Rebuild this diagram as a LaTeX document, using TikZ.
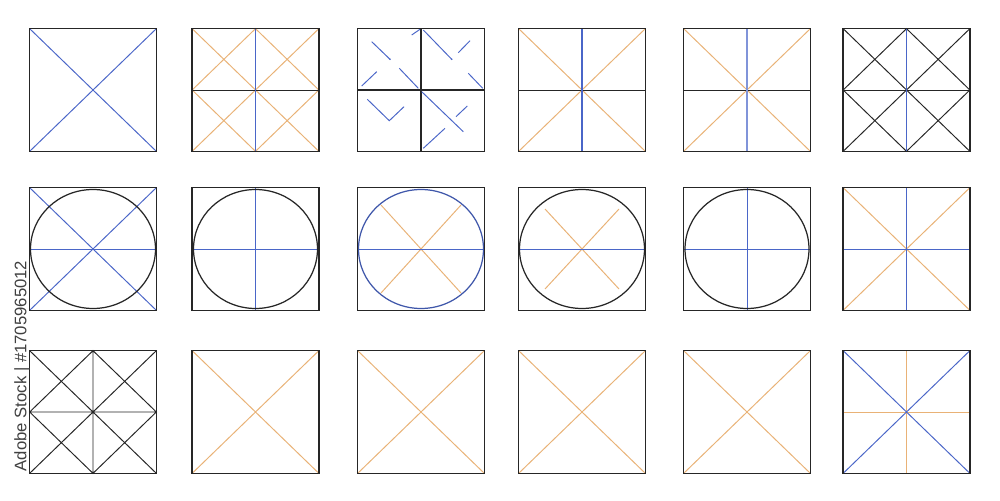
\documentclass[tikz,border=0pt]{standalone}
\usepackage{fontspec}
\usetikzlibrary{calc}
\newfontfamily\wmfont{Liberation Sans}
\definecolor{blu}{HTML}{4A66C8}
\definecolor{org}{HTML}{E9B276}
\definecolor{blk}{HTML}{262626}
\begin{document}
\begin{tikzpicture}[x=0.02cm,y=-0.02cm,
  sq/.style={rectangle, minimum width=2.52cm, minimum height=2.44cm, inner sep=0pt},
  border/.style={draw=blk, line width=0.85pt},
  blueln/.style={draw=blu, line width=0.55pt},
  orgln/.style={draw=org, line width=0.55pt},
  blkln/.style={draw=blk, line width=0.55pt},
  ring/.style={line width=0.7pt}]
\fill[white] (0,0) rectangle (1000,500);
\useasboundingbox (0,0) rectangle (1000,500);

% squares (shapes only, borders drawn last)
\foreach \n/\x in {1/93,2/255.5,3/421,4/582,5/747,6/906.5}{
  \node[sq] (s1\n) at (\x,90) {};
  \node[sq] (s2\n) at (\x,249) {};
  \node[sq] (s3\n) at (\x,412) {};
}

% ---------- row 1 ----------
% 1: blue X
\draw[blueln] (s11.north west) -- (s11.south east) (s11.north east) -- (s11.south west);
% 2: orange quadrant X's, black horizontal, blue vertical
\draw[orgln] (s12.north west) -- (s12.south east) (s12.north east) -- (s12.south west)
  (s12.north) -- (s12.east) -- (s12.south) -- (s12.west) -- cycle;
\draw[blkln] (s12.west) -- (s12.east);
\draw[blueln,line width=0.8pt] (s12.north) -- (s12.south);
% 3: black cross, broken blue strokes
\draw[blkln,line width=0.75pt] (s13.west) -- (s13.east) (s13.north) -- (s13.south);
\draw[blueln] (371.7,41.7) -- (390,59.3);
\fill[blu] (390,59.3) circle (0.9);
\draw[blueln] (399.3,68.3) -- (418.3,88.3);
\draw[blueln] (361.7,86) -- (376.7,71.7);
\draw[blueln] (411.7,35) -- (420,29.3);
\draw[blueln] (423.3,30) -- (451.7,59.3);
\fill[blu] (451.7,59.3) circle (0.9);
\draw[blueln] (458.3,52.7) -- (470,40.7);
\draw[blueln] (468.3,73.3) -- (482.7,88.3);
\draw[blueln] (367.3,99.3) -- (389.3,120.7) -- (404,106.7);
\draw[blueln] (421.7,91.7) -- (463.3,131.7);
\draw[blueln] (456,116.7) -- (467.3,106);
\draw[blueln] (423.3,148.3) -- (445,128.3);
% 4: orange X, black horizontal, blue vertical
\draw[orgln] (s14.north west) -- (s14.south east) (s14.north east) -- (s14.south west);
\draw[blkln] (s14.west) -- (s14.east);
\draw[blueln,line width=0.7pt] (s14.north) -- (s14.south);
% 5: same
\draw[orgln] (s15.north west) -- (s15.south east) (s15.north east) -- (s15.south west);
\draw[blkln] (s15.west) -- (s15.east);
\draw[blueln,draw=blu!70,line width=0.9pt] (s15.north) -- (s15.south);
% 6: black quadrant X's, black horizontal, blue vertical
\draw[blkln] (s16.north west) -- (s16.south east) (s16.north east) -- (s16.south west)
  (s16.north) -- (s16.east) -- (s16.south) -- (s16.west) -- cycle;
\draw[blkln] (s16.west) -- (s16.east);
\draw[blueln] (s16.north) -- (s16.south);

% ---------- row 2 ----------
% 1: circle, blue X, blue horizontal
\draw[blueln] (s21.north west) -- (s21.south east) (s21.north east) -- (s21.south west);
\draw[blueln] (s21.west) -- (s21.east);
\draw[blk,ring] (s21.center) ellipse [x radius=1.25cm, y radius=1.19cm];
% 2: circle, blue cross
\draw[blueln] (s22.west) -- (s22.east) (s22.north) -- (s22.south);
\draw[blk,ring] (s22.center) ellipse [x radius=1.24cm, y radius=1.19cm];
% 3: blue circle, blue horizontal, orange X inside
\draw[orgln] ($(s23.center)+(-40,-44)$) -- ($(s23.center)+(40,44)$)
  ($(s23.center)+(40,-44)$) -- ($(s23.center)+(-40,44)$);
\draw[blueln] (s23.west) -- (s23.east);
\draw[blu!85!black,ring] (s23.center) ellipse [x radius=1.25cm, y radius=1.19cm];
% 4: circle, blue horizontal, orange X inside
\draw[orgln] ($(s24.center)+(-37,-40)$) -- ($(s24.center)+(37,40)$)
  ($(s24.center)+(37,-40)$) -- ($(s24.center)+(-37,40)$);
\draw[blueln] (s24.west) -- (s24.east);
\draw[blk,ring] (s24.center) ellipse [x radius=1.25cm, y radius=1.19cm];
% 5: circle, blue cross
\draw[blueln] (s25.west) -- (s25.east) (s25.north) -- (s25.south);
\draw[blk,ring] (s25.center) ellipse [x radius=1.24cm, y radius=1.19cm];
% 6: orange X, blue cross
\draw[orgln] (s26.north west) -- (s26.south east) (s26.north east) -- (s26.south west);
\draw[blueln] (s26.west) -- (s26.east) (s26.north) -- (s26.south);

% ---------- row 3 ----------
% 1: full black grid
\draw[blkln] (s31.north west) -- (s31.south east) (s31.north east) -- (s31.south west)
  (s31.north) -- (s31.east) -- (s31.south) -- (s31.west) -- cycle
  (s31.west) -- (s31.east) (s31.north) -- (s31.south);
% 2-5: orange X
\foreach \n in {2,3,4,5}{
  \draw[orgln] (s3\n.north west) -- (s3\n.south east) (s3\n.north east) -- (s3\n.south west);
}
% 6: blue X, orange cross
\draw[orgln] (s36.west) -- (s36.east) (s36.north) -- (s36.south);
\draw[blueln] (s36.north west) -- (s36.south east) (s36.north east) -- (s36.south west);

% borders
\foreach \r in {1,2,3}{
  \foreach \c in {1,...,6}{
    \draw[border] (s\r\c.north west) rectangle (s\r\c.south east);
  }
}

% side label
\node[rotate=90, inner sep=0pt, text=black!75, font=\wmfont\fontsize{9.5}{10}\selectfont] (wm) at (22,366) {Adobe Stock | \#1705965012};
\end{tikzpicture}
\end{document}
